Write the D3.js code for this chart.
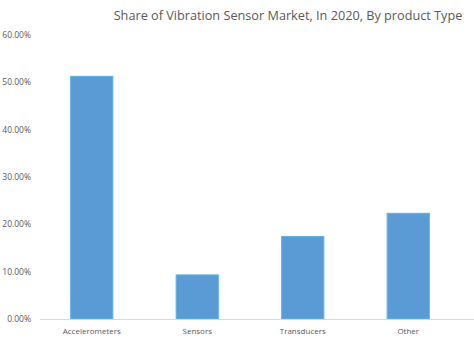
<!DOCTYPE html>
<html>
<head>
<meta charset="utf-8">
<script src="https://cdn.jsdelivr.net/npm/d3@7"></script>
<style>
  html, body { margin: 0; padding: 0; background: #fff; }
  svg { display: block; }
  text { font-family: "Open Sans", "Liberation Sans", sans-serif; fill: #595959; }
</style>
</head>
<body>
<script>
// Market share by product type, 2020
const categories = ["Accelerometers", "Sensors", "Transducers", "Other"];
const shares = [0.512, 0.093, 0.174, 0.223];
const yTicks = [0, 0.1, 0.2, 0.3, 0.4, 0.5, 0.6];
const title = "Share of Vibration Sensor Market, In 2020, By product Type";

const W = 474, H = 338;
const svg = d3.select("body").append("svg").attr("width", W).attr("height", H);

const x = d3.scaleBand().domain(categories).range([39, 461]).paddingInner(0.6).paddingOuter(0.3);
const y = d3.scaleLinear().domain([0, 0.6]).range([319, 34.6]);

// y-axis labels (no axis line, no gridlines)
const yAxis = d3.axisLeft(y).tickValues(yTicks).tickFormat(d3.format(".2%")).tickSize(0).tickPadding(0);
svg.append("g").attr("transform", "translate(31,0)").call(yAxis)
  .call(g => g.select(".domain").remove())
  .call(g => g.selectAll("text").attr("font-size", 8.5).style("fill", "#595959")
    .attr("font-family", "'Open Sans', sans-serif"));

// bars
svg.append("g").selectAll("rect").data(categories).join("rect")
  .attr("x", d => x(d))
  .attr("width", x.bandwidth())
  .attr("y", (d, i) => y(shares[i]))
  .attr("height", (d, i) => y(0) - y(shares[i]))
  .attr("fill", "#5b9bd5")
  .attr("stroke", "#58b4e6")
  .attr("stroke-width", 1);

// baseline
svg.append("line").attr("x1", 40).attr("x2", W).attr("y1", y(0) + 0.5).attr("y2", y(0) + 0.5)
  .attr("stroke", "#d9d9d9").attr("stroke-width", 1);

// category labels
const xAxis = d3.axisBottom(x).tickSize(0).tickPadding(0);
svg.append("g").attr("transform", `translate(0,${y(0) + 8.5})`).call(xAxis)
  .call(g => g.select(".domain").remove())
  .call(g => g.selectAll("text").attr("font-size", 8).attr("dy", "0.75em").style("fill", "#595959")
    .attr("font-family", "'Open Sans', sans-serif"));

// title
svg.append("text").attr("x", 288).attr("y", 20).attr("text-anchor", "middle")
  .attr("font-size", 12.7).text(title);
</script>
</body>
</html>
